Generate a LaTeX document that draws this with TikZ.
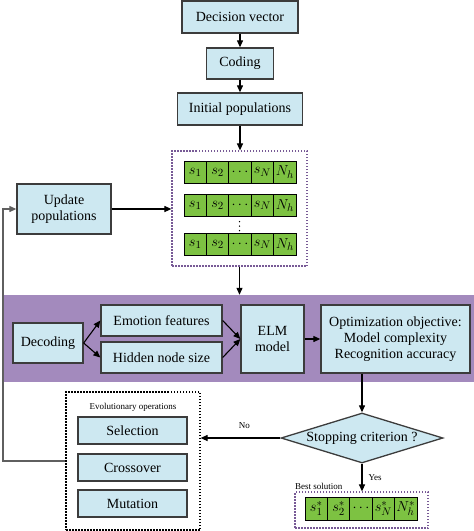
\documentclass[tikz,border=0pt]{standalone}
\usepackage{fontspec}
\setmainfont{Liberation Serif}
\usetikzlibrary{arrows.meta,shapes.geometric}
\definecolor{boxblue}{RGB}{205,232,241}
\definecolor{boxedge}{RGB}{60,60,60}
\definecolor{cellgreen}{RGB}{125,194,66}
\definecolor{bandpurple}{RGB}{163,138,189}
\definecolor{dotpurple}{RGB}{120,90,150}
\definecolor{fbgray}{RGB}{95,95,95}
\begin{document}
\begin{tikzpicture}[x=1pt,y=-1pt,
  box/.style={draw=boxedge, line width=1.3pt, fill=boxblue, inner sep=0pt, align=center, font=\fontsize{14}{16}\selectfont},
  cell/.style={draw=black, line width=0.9pt, fill=cellgreen, minimum width=22.4pt, minimum height=22pt, inner sep=0pt, font=\fontsize{15}{17}\selectfont},
  arr/.style={-{Triangle[length=7pt,width=6pt]}, line width=1.1pt, black},
  dotbox/.style={draw=dotpurple, line width=1.2pt, dash pattern=on 1.5pt off 1.5pt, inner sep=0pt},
  blackdot/.style={draw=black, line width=1.2pt, dash pattern=on 1.5pt off 1.5pt, inner sep=0pt},
  small/.style={font=\fontsize{9}{10}\selectfont, inner sep=0pt}
]
\useasboundingbox (0,0) rectangle (474,531);

% purple band
\node[fill=bandpurple, minimum width=470pt, minimum height=87pt, inner sep=0pt] (band) at (239,338.5) {};

% top chain
\node[box, minimum width=116pt, minimum height=32pt] (dec) at (240,17) {Decision vector};
\node[box, minimum width=67pt, minimum height=31pt] (cod) at (240,63.5) {Coding};
\node[box, minimum width=125pt, minimum height=32pt] (init) at (240,109) {Initial populations};

% population box
\node[dotbox, minimum width=135pt, minimum height=115pt] (pop) at (239.5,208.5) {};
\foreach \r/\y in {1/172,2/205.5,3/244.5}{
  \foreach \t [count=\i] in {$s_1$,$s_2$,$\cdots$,$s_N$,$N_h$}{
    \node[cell] (p\r c\i) at ({195.2+22.4*(\i-1)},\y) {\t};
  }
}
\coordinate (vd) at (239.5,226);
\foreach \d in {-4.5,0,4.5}{
  \fill[black] ([yshift=\d pt]vd) circle (0.75pt);
}

% update populations
\node[box, minimum width=94pt, minimum height=50pt] (upd) at (64,209) {Update\\populations};

% band contents
\node[box, minimum width=70pt, minimum height=40pt] (decod) at (48,343) {Decoding};
\node[box, minimum width=121pt, minimum height=31pt] (emo) at (161.5,320.5) {Emotion features};
\node[box, minimum width=121pt, minimum height=31pt] (hid) at (161.5,357.5) {Hidden node size};
\node[box, minimum width=63pt, minimum height=68pt] (elm) at (272.5,339) {ELM\\model};
\node[box, minimum width=149pt, minimum height=68pt] (opt) at (395.5,339) {Optimization objective:\\Model complexity\\Recognition accuracy};

% decision
\node[diamond, draw=boxedge, fill=boxblue, line width=1.3pt, aspect=3.24, inner sep=0pt, minimum width=162pt, minimum height=50pt, font=\fontsize{14}{16}\selectfont] (stop) at (362,438) {Stopping criterion ?};

% evolutionary operations
\node[blackdot, minimum width=134pt, minimum height=138pt] (evol) at (133,461) {};
\node[small] (evlab) at (133,407) {Evolutionary operations};
\node[box, minimum width=109pt, minimum height=27pt] (sel) at (132.5,430.5) {Selection};
\node[box, minimum width=109pt, minimum height=27pt] (cro) at (132.5,467.5) {Crossover};
\node[box, minimum width=109pt, minimum height=27pt] (mut) at (132.5,503.5) {Mutation};

% best solution
\node[dotbox, minimum width=133pt, minimum height=36pt] (best) at (361.5,510) {};
\node[small, anchor=south west] (bestlab) at (295,490) {Best solution};
\foreach \t [count=\i] in {$s_1^*$,$s_2^*$,$\cdots$,$s_N^*$,$N_h^*$}{
  \node[cell, minimum height=23pt] (b\i) at ({316.2+22.4*(\i-1)},508.5) {\t};
}

% connectors
\draw[arr] (dec) -- (cod);
\draw[arr] (cod) -- (init);
\draw[arr] (init.south) -- (init.south |- pop.north);
\draw[arr] (upd.east) -- (upd.east -| pop.west);
\draw[arr] (pop.south) -- (pop.south |- band.north);
\draw[arr] (decod.east) -- (emo.west);
\draw[arr] (decod.east) -- (hid.west);
\draw[arr] (emo.east) -- (elm.west);
\draw[arr] (hid.east) -- (elm.west);
\draw[arr] (elm) -- (opt);
\draw[arr] (stop.north |- opt.south) -- (stop.north);
\draw[arr] (stop.west) -- node[small, above=9pt, pos=0.45] (nolab) {No} (stop.west -| evol.east);
\draw[arr] (stop.south) -- node[small, right=6pt, pos=0.5] (yeslab) {Yes} (stop.south |- best.north);
\coordinate (fb) at (3,461);
\draw[arr, draw=fbgray] (evol.west) -- (fb) |- (upd.west);
\end{tikzpicture}
\end{document}
